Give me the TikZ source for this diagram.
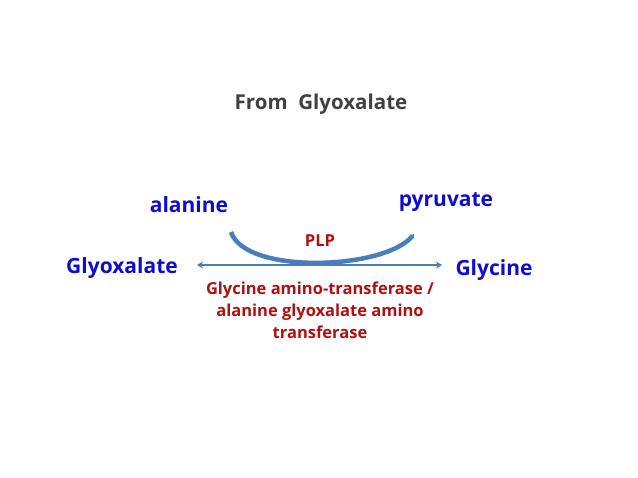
\documentclass[tikz,border=0pt]{standalone}
\usepackage{fontspec}
\setmainfont{Open Sans}
\usetikzlibrary{arrows.meta}
\definecolor{lblue}{HTML}{0D0DD0}
\definecolor{dred}{HTML}{B01010}
\definecolor{arr}{HTML}{4A7EBB}
\tikzset{x=1pt,y=-1pt,
 lab/.style={font=\fontsize{21}{24}\selectfont\bfseries,text=lblue,inner sep=0},
 red/.style={font=\fontsize{16.5}{22}\selectfont\bfseries,text=dred,inner sep=0,align=center}}
\begin{document}
\begin{tikzpicture}
\useasboundingbox (0,0) rectangle (638,478);
\node[font=\fontsize{20.5}{24}\selectfont\bfseries,text=black!75,inner sep=0] (t) at (321,104) {From\ \ Glyoxalate};
\node[lab] (ala) at (189,205) {alanine};
\node[lab] (pyr) at (446,202) {pyruvate};
\node[lab] (gly) at (122,268) {Glyoxalate};
\node[lab] (gcn) at (494,270) {Glycine};
\node[red] (plp) at (320,241) {PLP};
\node[red] (enz) at (320,310) {Glycine amino-transferase /\\alanine glyoxalate amino\\transferase};
\coordinate (l) at (197,265);
\coordinate (r) at (442,265);
\coordinate (c1) at (231,232);
\coordinate (c2) at (414,234);
\draw[arr,line width=2.5pt,{Stealth[length=6pt,width=7pt]}-{Stealth[length=6pt,width=7pt]}] (l) -- (r);
\draw[arr,line width=4.5pt,-{Stealth[length=4pt,width=5pt]}] (c1) .. controls (245,275) and (385,270) .. (c2);
\end{tikzpicture}
\end{document}
